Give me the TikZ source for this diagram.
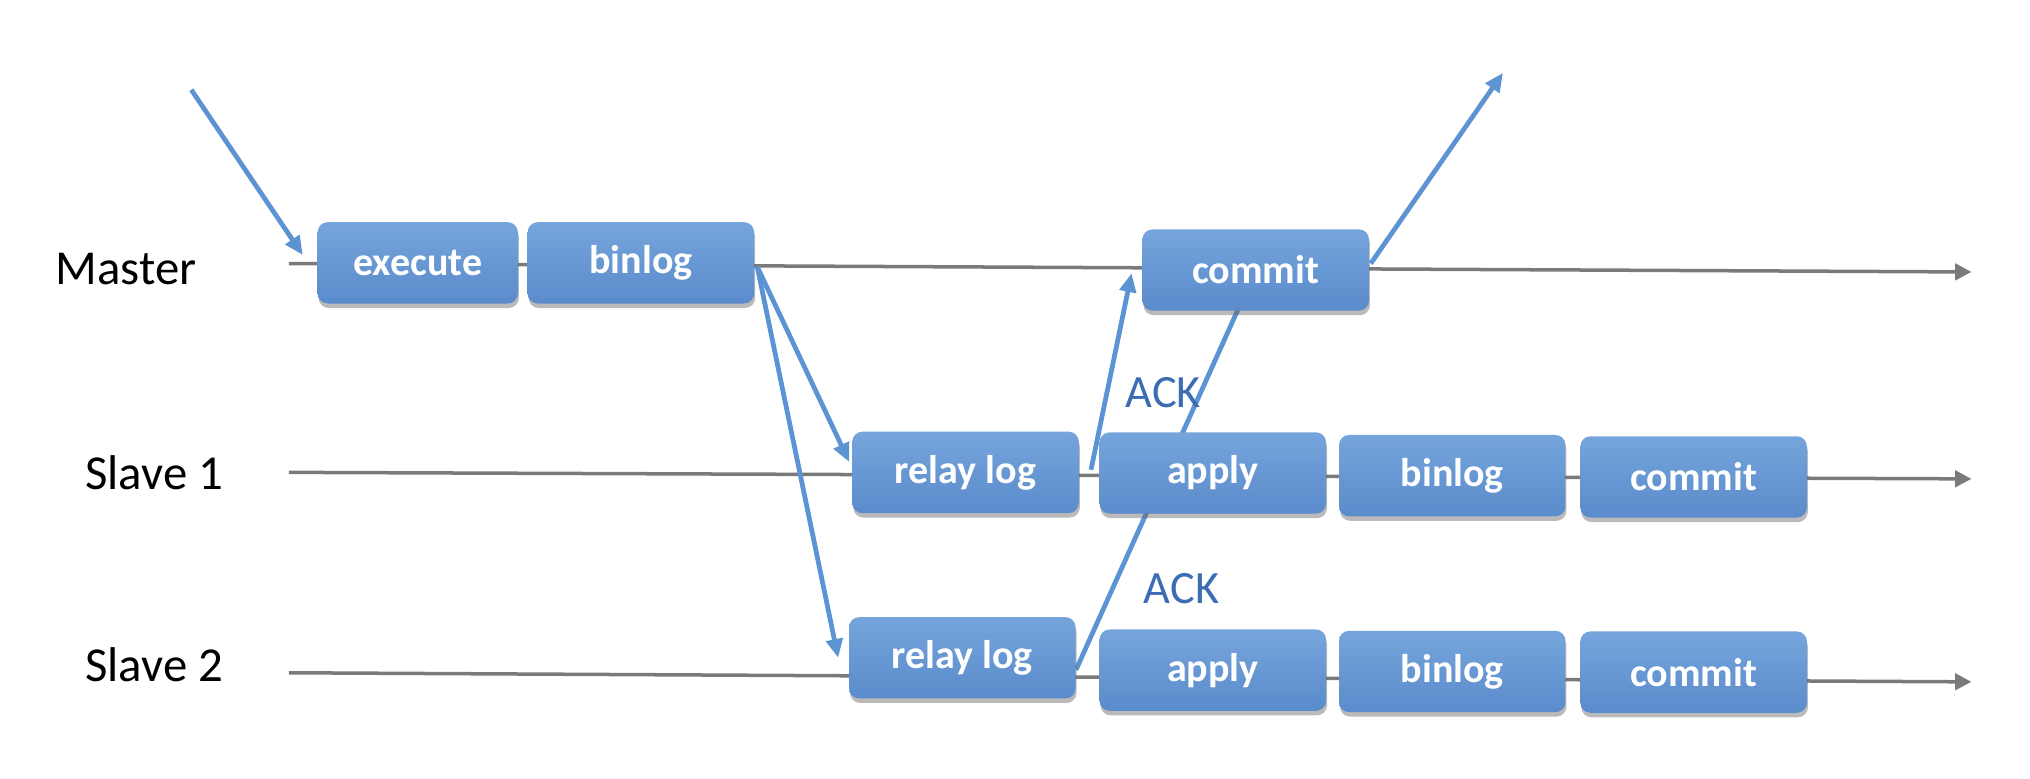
\documentclass[tikz,border=0pt]{standalone}
\usepackage{fontspec}
\setmainfont{Carlito}
\usetikzlibrary{arrows.meta,shadows,calc,backgrounds}
\definecolor{boxtop}{HTML}{76A5DC}
\definecolor{boxbot}{HTML}{5A8BCB}
\definecolor{flow}{HTML}{5C93D2}
\definecolor{axis}{HTML}{7A7A7A}
\definecolor{acktext}{HTML}{3C6DB4}
\begin{document}
\begin{tikzpicture}[x=0.52pt,y=-0.52pt,
  stage/.style={rounded corners=4pt, minimum height=32.5pt, minimum width=90.5pt, inner sep=0pt,
    top color=boxtop, bottom color=boxbot, draw=none, text=white,
    font=\bfseries\fontsize{16}{19}\selectfont,
    drop shadow={shadow xshift=0.4pt, shadow yshift=-1.8pt, opacity=0.45, fill=black!60}},
  rowlabel/.style={anchor=base, font=\fontsize{19.5}{23}\selectfont, text=black},
  acklabel/.style={anchor=base, font=\fontsize{18.5}{22}\selectfont, text=acktext},
  timeline/.style={draw=axis, line width=1.4pt, -{Triangle[length=6.5pt,width=6.5pt]}},
  flowarrow/.style={draw=flow, line width=1.9pt, -{Triangle[length=7.5pt,width=6.5pt]}},
  flowline/.style={draw=flow, line width=1.9pt}]
\useasboundingbox (0,0) rectangle (1560,598);

% row labels
\node[rowlabel] (lm) at (97,219) {Master};
\node[rowlabel] (ls1) at (118.5,376) {Slave 1};
\node[rowlabel] (ls2) at (118.5,524) {Slave 2};

% timeline end points
\coordinate (m0) at (222,202.5);
\coordinate (m1) at (1515,209);
\coordinate (s10) at (222,363);
\coordinate (s11) at (1515,368);
\coordinate (s20) at (222,517);
\coordinate (s21) at (1515,524);

% boxes
\node[stage, minimum width=80pt] (execute) at (321,202) {execute};
\node[stage] (mbinlog) at (492.5,202) {binlog};
\node[stage] (mcommit) at (965,207.5) {commit};

\node[stage] (r1) at (742,363) {relay log};
\node[stage] (a1) at (932,363.5) {apply};
\node[stage] (b1) at (1116,365.5) {binlog};
\node[stage] (c1) at (1301.5,366.5) {commit};

\node[stage] (r2) at (739.5,505.5) {relay log};
\node[stage] (a2) at (932,515) {apply};
\node[stage] (b2) at (1116,516) {binlog};
\node[stage] (c2) at (1301.5,516.5) {commit};

\begin{pgfonlayer}{background}
  \draw[timeline] (m0) -- (m1);
  \draw[timeline] (s10) -- (s11);
  \draw[timeline] (s20) -- (s21);
  % ACK from slave 2 (passes behind boxes)
  \draw[flowline] (r2.-6) -- (mcommit.center);
\end{pgfonlayer}

% input / output
\coordinate (in) at (147,69);
\coordinate (out) at (1155,56);
\draw[flowarrow] (in) -- ($(execute.west)+(-11,-6)$);
\draw[flowarrow] ($(mcommit.east)+(1,-5)$) -- (out);

% binlog to relay logs
\draw[flowarrow] ($(mbinlog.east)+(2,3)$) -- ($(r1.west)+(-2,-8)$);
\draw[flowarrow] ($(mbinlog.east)+(2,3)$) -- ($(r2.west)+(-8,0)$);

% ACK from slave 1
\draw[flowarrow] ($(r1.east)+(9,-2)$) -- ($(mcommit.west)+(-8,2.5)$);

% ACK labels
\node[acklabel] (ack1) at (894,313) {ACK};
\node[acklabel] (ack2) at (908,463.5) {ACK};
\end{tikzpicture}
\end{document}
